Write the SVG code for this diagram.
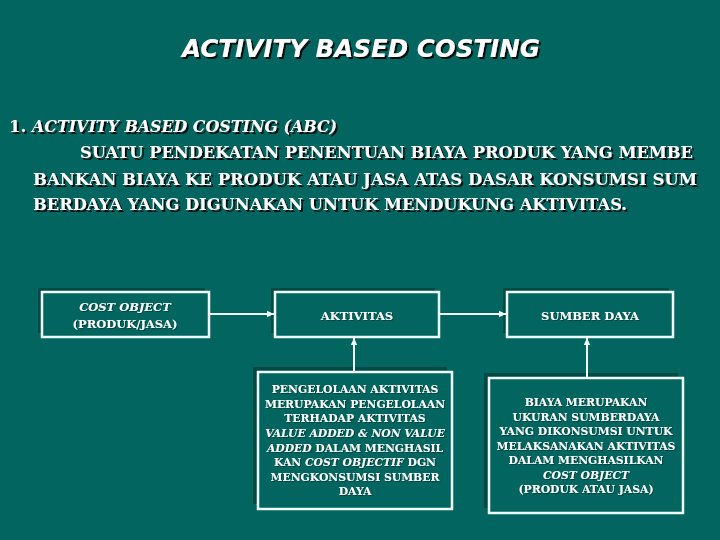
<svg xmlns="http://www.w3.org/2000/svg" width="720" height="540" viewBox="0 0 720 540">
<defs>
<filter id="ts" x="-5%" y="-30%" width="110%" height="160%"><feDropShadow dx="2" dy="2" stdDeviation="0.6" flood-color="#000" flood-opacity="0.85"/></filter>
<filter id="bs" x="-5%" y="-30%" width="110%" height="160%"><feDropShadow dx="1" dy="1" stdDeviation="0.5" flood-color="#002a27" flood-opacity="0.6"/></filter>
<marker id="ah" markerWidth="8" markerHeight="8" refX="7" refY="4" orient="auto" markerUnits="userSpaceOnUse">
<path d="M0,0.8 L7,4 L0,7.2 Z" fill="#f2fffb"/>
</marker>
<style>
.bg{fill:#02655f}
.title{font-family:"DejaVu Sans",Verdana,sans-serif;font-weight:bold;font-style:italic;font-size:24px;fill:#ffffff}
.body{font-family:"DejaVu Serif","Liberation Serif",serif;font-weight:bold;font-size:16.5px;fill:#ffffff}
.box{fill:#02655f;stroke:#f0fffb;stroke-width:2.5}
.shd{fill:#00433f;opacity:0.8}
.bt{font-family:"DejaVu Serif","Liberation Serif",serif;font-weight:bold;font-size:11.5px;fill:#ffffff;text-anchor:middle}
.bt2{font-family:"DejaVu Serif","Liberation Serif",serif;font-weight:bold;font-size:10.8px;fill:#ffffff;text-anchor:middle}
.it{font-style:italic}
.conn{stroke:#f2fffb;stroke-width:2;fill:none}
</style>
</defs>
<rect class="bg" x="0" y="0" width="720" height="540"/>
<g id="heading">
<text class="title" x="182" y="57" textLength="358" lengthAdjust="spacingAndGlyphs" filter="url(#ts)">ACTIVITY BASED COSTING</text>
</g>
<g id="definition" filter="url(#ts)">
<text class="body" x="9" y="132">1.</text>
<text class="body" x="32" y="132" font-style="italic" textLength="305" lengthAdjust="spacingAndGlyphs">ACTIVITY BASED COSTING (ABC)</text>
<text class="body" x="80" y="158" textLength="613" lengthAdjust="spacingAndGlyphs">SUATU PENDEKATAN PENENTUAN BIAYA PRODUK YANG MEMBE</text>
<text class="body" x="33" y="185" textLength="664" lengthAdjust="spacingAndGlyphs">BANKAN BIAYA KE PRODUK ATAU JASA ATAS DASAR KONSUMSI SUM</text>
<text class="body" x="33" y="210" textLength="594" lengthAdjust="spacingAndGlyphs">BERDAYA YANG DIGUNAKAN UNTUK MENDUKUNG AKTIVITAS.</text>
</g>
<g id="node-cost-object">
<rect class="shd" x="38" y="288" width="167" height="45"/>
<rect class="box" x="42" y="292" width="167" height="45"/>
<text class="bt" x="125" y="311" filter="url(#bs)"><tspan class="it">COST OBJECT</tspan></text>
<text class="bt" x="125" y="328" filter="url(#bs)">(PRODUK/JASA)</text>
</g>
<g id="node-aktivitas">
<rect class="shd" x="271" y="288" width="164" height="45"/>
<rect class="box" x="275" y="292" width="164" height="45"/>
<text class="bt" x="357" y="320" filter="url(#bs)">AKTIVITAS</text>
</g>
<g id="node-sumber-daya">
<rect class="shd" x="503" y="288" width="166" height="45"/>
<rect class="box" x="507" y="292" width="166" height="45"/>
<text class="bt" x="590" y="320" filter="url(#bs)">SUMBER DAYA</text>
</g>
<g id="node-pengelolaan">
<rect class="shd" x="253" y="367" width="194" height="137"/>
<rect class="box" x="258" y="372" width="194" height="137"/>
<g filter="url(#bs)">
<text class="bt2" x="355" y="393">PENGELOLAAN AKTIVITAS</text>
<text class="bt2" x="355" y="407.5">MERUPAKAN PENGELOLAAN</text>
<text class="bt2" x="355" y="422">TERHADAP AKTIVITAS</text>
<text class="bt2" x="355" y="437"><tspan class="it">VALUE ADDED &amp; NON VALUE</tspan></text>
<text class="bt2" x="355" y="451.5"><tspan class="it">ADDED</tspan> DALAM MENGHASIL</text>
<text class="bt2" x="355" y="466">KAN <tspan class="it">COST OBJECTIF</tspan> DGN</text>
<text class="bt2" x="355" y="480.5">MENGKONSUMSI SUMBER</text>
<text class="bt2" x="355" y="495">DAYA</text>
</g>
</g>
<g id="node-biaya">
<rect class="shd" x="484" y="373" width="194" height="135"/>
<rect class="box" x="489" y="378" width="194" height="135"/>
<g filter="url(#bs)">
<text class="bt2" x="586" y="406">BIAYA MERUPAKAN</text>
<text class="bt2" x="586" y="420.5">UKURAN SUMBERDAYA</text>
<text class="bt2" x="586" y="435">YANG DIKONSUMSI UNTUK</text>
<text class="bt2" x="586" y="449.5">MELAKSANAKAN AKTIVITAS</text>
<text class="bt2" x="586" y="464">DALAM MENGHASILKAN</text>
<text class="bt2" x="586" y="478.5"><tspan class="it">COST OBJECT</tspan></text>
<text class="bt2" x="586" y="493">(PRODUK ATAU JASA)</text>
</g>
</g>
<g id="connectors">
<line class="conn" x1="210" y1="314" x2="274" y2="314" marker-end="url(#ah)"/>
<line class="conn" x1="440" y1="314" x2="506" y2="314" marker-end="url(#ah)"/>
<line class="conn" x1="354" y1="371" x2="354" y2="338" marker-end="url(#ah)"/>
<line class="conn" x1="587" y1="377" x2="587" y2="338" marker-end="url(#ah)"/>
</g>
</svg>
